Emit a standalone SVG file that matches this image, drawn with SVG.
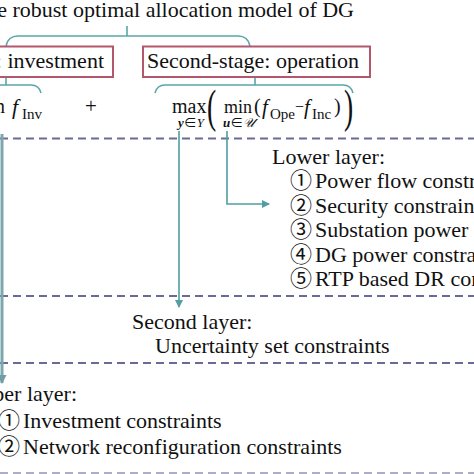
<svg xmlns="http://www.w3.org/2000/svg" width="474" height="474" viewBox="0 0 474 474">
<style>
text{font-family:"Liberation Serif","Noto Sans CJK SC",serif;fill:#111}
.t{font-size:22px}
.f{font-size:20px}
.s{font-size:15px}
.ss{font-size:13px}
.i{font-style:italic}
.box{fill:#fff;stroke:#b5566f;stroke-width:2}
.br{fill:none;stroke:#5aa6a8;stroke-width:1.6}
.dash{stroke:#6a6a98;stroke-width:2;stroke-dasharray:8 5;fill:none}
.con{fill:none;stroke:#4f9fa3;stroke-width:1.6}
</style>
<defs>
<marker id="ah" markerWidth="8" markerHeight="8" refX="7" refY="4" orient="auto" markerUnits="userSpaceOnUse">
<path d="M0,0 L8,4 L0,8 Z" fill="#4f9fa3"/>
</marker>
<marker id="ahg" markerWidth="9" markerHeight="9" refX="8" refY="4.5" orient="auto" markerUnits="userSpaceOnUse">
<path d="M0,0 L9,4.5 L0,9 Z" fill="#6f9ea5"/>
</marker>
</defs>

<g id="title">
<text class="t" x="354" y="17" text-anchor="end">The robust optimal allocation model of DG</text>
</g>

<g id="brackets">
<path class="br" d="M127 26 V36 M6 46 Q8 36 18 36 H238 Q248 36 250 46"/>
<path class="br" d="M6 77 V85 M-29 93 Q-27 85 -19 85 H31 Q39 85 41 93"/>
<path class="br" d="M255 77 V85 M155 93 Q157 85 165 85 H343 Q351 85 353 93"/>
</g>

<g id="first-stage">
<rect class="box" x="-101" y="46.5" width="214" height="30.5"/>
<text class="t" x="104" y="68" text-anchor="end">First-stage: investment</text>
</g>

<g id="second-stage">
<rect class="box" x="143" y="46.5" width="227" height="30.5"/>
<text class="t" x="147" y="68">Second-stage: operation</text>
</g>

<g id="formula-first">
<text class="f" x="5" y="113" text-anchor="end">min</text>
<text class="i" font-size="22" x="12" y="114">f</text>
<text class="s" x="22" y="119">Inv</text>
<text font-size="21" x="85" y="113">+</text>
</g>

<g id="formula-second">
<text class="f" x="172" y="113">max</text>
<text class="ss" x="178" y="127"><tspan font-style="italic" font-weight="bold">y</tspan>∈<tspan font-style="italic">Y</tspan></text>
<text font-size="46" transform="translate(207,122) scale(0.6,1)">(</text>
<text font-size="18" x="224" y="113">min</text>
<text class="ss" x="223" y="127"><tspan font-style="italic" font-weight="bold">u</tspan>∈<tspan font-style="italic">𝒰</tspan></text>
<text class="f" x="254" y="113">(</text>
<text class="i" font-size="21" x="262" y="114">f</text>
<text class="s" x="270" y="119">Ope</text>
<text font-size="16" x="295" y="112">−</text>
<text class="i" font-size="21" x="304" y="114">f</text>
<text class="s" x="312" y="119">Inc</text>
<text class="f" x="334" y="113">)</text>
<text font-size="46" transform="translate(344,122) scale(0.6,1)">)</text>
</g>

<g id="layer-separators">
<line class="dash" x1="0" y1="138.5" x2="474" y2="138.5"/>
<line class="dash" x1="0" y1="296" x2="474" y2="296"/>
<line class="dash" x1="0" y1="363" x2="474" y2="363"/>
<line class="dash" x1="0" y1="473" x2="474" y2="473" opacity="0.55"/>
</g>

<g id="connectors">
<line x1="2" y1="134" x2="2" y2="383" stroke="#7ea7ad" stroke-width="3" marker-end="url(#ahg)"/>
<line class="con" x1="179" y1="131" x2="179" y2="307" marker-end="url(#ah)"/>
<polyline class="con" points="227,131 227,204 269,204" marker-end="url(#ah)"/>
</g>

<g id="lower-layer">
<text class="t" x="272" y="164">Lower layer:</text>
<text class="t" x="290" y="188">① <tspan dx="-2.5">Power flow constraints</tspan></text>
<text class="t" x="290" y="212.5">② <tspan dx="-2.5">Security constraints</tspan></text>
<text class="t" x="290" y="237">③ <tspan dx="-2.5">Substation power constraints</tspan></text>
<text class="t" x="290" y="261.5">④ <tspan dx="-2.5">DG power constraints</tspan></text>
<text class="t" x="290" y="286">⑤ <tspan dx="-2.5">RTP based DR constraints</tspan></text>
</g>

<g id="second-layer">
<text class="t" x="132" y="329">Second layer:</text>
<text class="t" x="155" y="353">Uncertainty set constraints</text>
</g>

<g id="upper-layer">
<text class="t" x="77" y="401" text-anchor="end">Upper layer:</text>
<text class="t" x="-2" y="428">① <tspan dx="-2.5">Investment constraints</tspan></text>
<text class="t" x="-2" y="454">② <tspan dx="-2.5">Network reconfiguration constraints</tspan></text>
</g>
</svg>
